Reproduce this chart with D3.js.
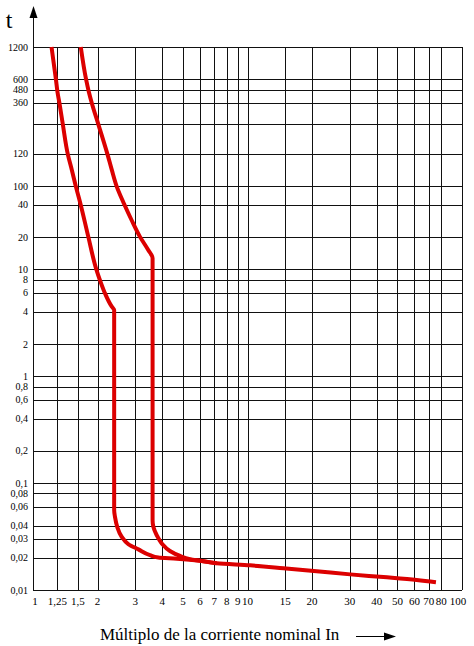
<!DOCTYPE html>
<html>
<head>
<meta charset="utf-8">
<script src="https://cdn.jsdelivr.net/npm/d3@7"></script>
<style>
  html, body { margin: 0; padding: 0; background: #fff; }
  svg { display: block; }
  text { font-family: "Liberation Serif", "Times New Roman", serif; fill: #000; }
</style>
</head>
<body>
<svg id="chart" width="474" height="646"></svg>
<script>
// ---- data ----
const xTickValues = [1, 1.3, 1.62, 2, 3, 4, 5, 6, 7, 8, 9, 10, 15, 20, 30, 40, 50, 60, 70, 80, 100];
const xTickLabels = ["1", "1,25", "1,5", "2", "3", "4", "5", "6", "7", "8", "9", "10", "15", "20", "30", "40", "50", "60", "70", "80", "100"];

const yTickValues = [1200, 600, 480, 360, 230, 120, 60, 40, 20, 10, 8, 6, 4, 2, 1, 0.8, 0.6, 0.4, 0.2, 0.1, 0.08, 0.06, 0.04, 0.03, 0.02, 0.01];
const yTickLabels = ["1200", "600", "480", "360", "", "120", "100", "40", "20", "10", "8", "6", "4", "2", "1", "0,8", "0,6", "0,4", "0,2", "0,1", "0,08", "0,06", "0,04", "0,03", "0,02", "0,01"];

// curve 1 (left / lower)
const curve1X = [1.22, 1.28, 1.30, 1.33, 1.375, 1.456, 1.517, 1.586, 1.665, 1.81, 1.97, 2.05, 2.15, 2.33, 2.39, 2.39, 2.41, 2.47, 2.59, 2.78, 3.10, 3.51, 3.84, 4.68, 6.0, 7.18, 10.3, 14.7, 21.0, 30.1, 43.0, 61.5, 75.6];
const curve1T = [1200, 590, 458, 352, 232, 117, 85, 59, 40.8, 20.2, 10.1, 7.94, 6.17, 4.47, 4.16, 0.056, 0.0485, 0.039, 0.0315, 0.0269, 0.024, 0.0212, 0.0201, 0.0196, 0.0188, 0.0178, 0.0170, 0.0160, 0.0150, 0.0140, 0.0132, 0.0124, 0.0118];

// curve 2 (right / upper)
const curve2X = [1.67, 1.77, 1.82, 1.885, 2.01, 2.23, 2.33, 2.46, 2.66, 2.88, 3.15, 3.44, 3.61, 3.61, 3.64, 3.77, 3.98, 4.35, 4.85, 5.4, 6.0, 7.18];
const curve2T = [1200, 590, 458, 352, 232, 117, 85, 59, 40.8, 28.9, 20.2, 15.2, 12.7, 0.045, 0.039, 0.0327, 0.0273, 0.0232, 0.0208, 0.0194, 0.0188, 0.0178];

const yTitle = "t";
const xTitle = "Múltiplo de la corriente nominal In";

// ---- drawing ----
const svg = d3.select("#chart");
const x = d3.scaleLog().domain([1, 100]).range([33, 462]);
const y = d3.scaleLog().domain([0.01, 1200]).range([590, 47]);
const px = v => Math.round(x(v)) + 0.5;
const py = v => Math.round(y(v)) + 0.5;

svg.append("rect").attr("width", 474).attr("height", 646).attr("fill", "#fff");

const grid = svg.append("g").attr("stroke", "#111").attr("stroke-width", 1).attr("shape-rendering", "crispEdges");

// horizontal grid lines
grid.selectAll("line.h").data(yTickValues).join("line")
  .attr("class", "h")
  .attr("x1", x(1)).attr("x2", x(100))
  .attr("y1", d => py(d)).attr("y2", d => py(d));

// vertical grid lines
grid.selectAll("line.v").data(xTickValues).join("line")
  .attr("class", "v")
  .attr("x1", d => px(d)).attr("x2", d => px(d))
  .attr("y1", y(0.01)).attr("y2", y(1200));

// y axis line extended with arrow
const ax = px(1);
grid.append("line").attr("x1", ax).attr("x2", ax).attr("y1", y(0.01)).attr("y2", 12);
svg.append("path")
  .attr("d", `M${ax},6 L${ax - 4},18 L${ax + 4},18 Z`)
  .attr("fill", "#000");

// y title
svg.append("text").attr("x", 9).attr("y", 28).attr("text-anchor", "middle")
  .attr("font-size", 24).text(yTitle);

// y tick labels
svg.append("g").selectAll("text").data(yTickValues).join("text")
  .attr("x", 28).attr("y", d => y(d)).attr("dy", "0.35em")
  .attr("text-anchor", "end").attr("font-size", 10)
  .text((d, i) => yTickLabels[i]);

// x tick labels
svg.append("g").selectAll("text").data(xTickValues).join("text")
  .attr("x", (d, i) => i === 0 ? x(d) + 2 : (i === xTickValues.length - 1 ? x(d) - 4 : x(d)))
  .attr("y", 605).attr("text-anchor", "middle").attr("font-size", 11)
  .text((d, i) => xTickLabels[i]);

// curves
const line = d3.line()
  .x(d => x(d[0])).y(d => y(d[1]))
  .curve(d3.curveMonotoneY);

const c1 = curve1X.map((v, i) => [v, curve1T[i]]);
const c2 = curve2X.map((v, i) => [v, curve2T[i]]);

svg.append("g").selectAll("path").data([c1, c2]).join("path")
  .attr("d", line)
  .attr("fill", "none")
  .attr("stroke", "#dc0000")
  .attr("stroke-width", 4)
  .attr("stroke-linejoin", "round")
  .attr("stroke-linecap", "butt");

// x title and arrow
svg.append("text").attr("x", 100).attr("y", 640).attr("font-size", 17).text(xTitle);
svg.append("line").attr("x1", 356).attr("x2", 385).attr("y1", 636.5).attr("y2", 636.5)
  .attr("stroke", "#000").attr("stroke-width", 1);
svg.append("path").attr("d", "M384,632.5 L396,636.5 L384,640.5 Z").attr("fill", "#000");
</script>
</body>
</html>
